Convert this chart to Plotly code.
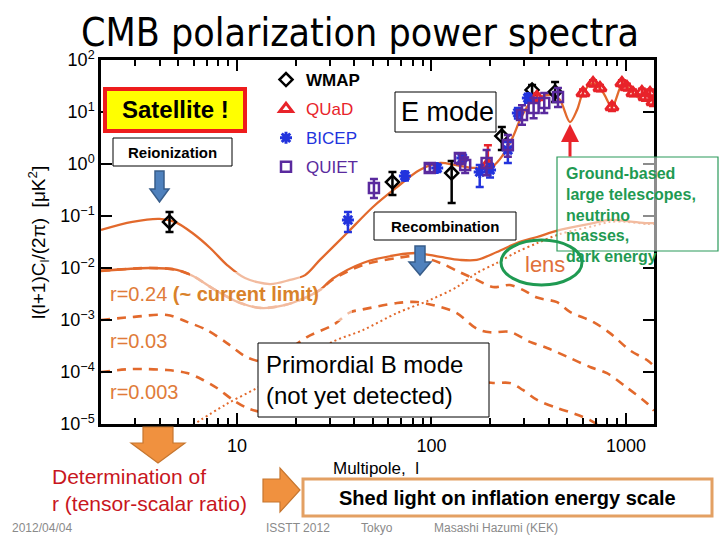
import math
import plotly.graph_objects as go

# ---------------- data ----------------
# E-mode theory curve
ee_l = [2.0, 2.9, 4.0, 4.8, 5.9, 7.3, 8.9, 11.0, 14.8, 18.7, 22.4, 26.7, 36.8, 50, 66.5, 87, 111, 132,
        167, 207, 233, 262, 285, 321, 361, 421, 458, 515, 560, 601, 677, 761, 847, 965, 1086, 1223, 1393]
ee_v = [0.054, 0.077, 0.088, 0.077, 0.047, 0.024, 0.0114, 0.0064, 0.0049, 0.0059, 0.0073, 0.0143, 0.047,
        0.149, 0.36, 0.77, 1.05, 0.96, 0.84, 0.92, 1.49, 3.3, 7.0, 14.9, 19.4, 21.2, 17.0, 6.4, 10.9, 23.2,
        36.0, 24.0, 12.5, 36.0, 23.0, 17.0, 17.0]

# total B-mode (r=0.24 + lensing), solid
bb_l = [2.0, 3.57, 4.91, 5.94, 7.71, 10.4, 13.4, 17.6, 21.1, 26.7, 31, 44.4, 66.5, 84, 111, 140, 171,
        217, 275, 349, 458, 677, 827, 1012, 1282, 1393]
bb_v = [0.0088, 0.0100, 0.0092, 0.0070, 0.0038, 0.00212, 0.00170, 0.00194, 0.00243, 0.00378, 0.0062,
        0.0125, 0.0178, 0.0194, 0.0163, 0.0143, 0.0143, 0.0203, 0.0303, 0.0395, 0.054, 0.073, 0.084,
        0.080, 0.073, 0.073]

# primordial B-mode, r=0.24 (dashed)
r24_l = [2.0, 3.57, 4.91, 5.94, 7.71, 10.4, 13.4, 17.6, 21.1, 26.7, 31, 44.4, 66.5, 84, 111, 140, 171,
         207, 253, 295, 349, 442, 515, 677, 827, 1049, 1282, 1393]
r24_v = [0.0088, 0.0100, 0.0092, 0.0070, 0.0038, 0.00212, 0.00170, 0.00194, 0.00243, 0.00378, 0.0060,
         0.0114, 0.0156, 0.0170, 0.0125, 0.0083, 0.0059, 0.0043, 0.0047, 0.0038, 0.0027, 0.0022,
         0.00143, 0.00092, 0.00056, 0.00026, 0.00017, 0.00013]

# primordial B-mode, r=0.03 (dashed)
r03_l = [2.0, 2.9, 4.37, 5.53, 7.01, 8.88, 11.3, 13.9, 17.6, 22.9, 31.2, 38.1, 44.4, 66.5, 84, 111, 135,
         171, 200, 253, 321, 393, 515, 653, 798, 1012, 1282, 1393]
r03_v = [0.00100, 0.00114, 0.00125, 0.00092, 0.00064, 0.00036, 0.00019, 0.00016, 0.00024, 0.00047,
         0.00080, 0.0014, 0.0016, 0.00212, 0.00222, 0.00178, 0.00136, 0.00068, 0.00058, 0.00059,
         0.00038, 0.00029, 0.000186, 0.000125, 0.000095, 0.000050, 0.000025, 0.000018]

# primordial B-mode, r=0.003 (dashed)
r003_l = [2.0, 2.9, 4.37, 5.53, 6.69, 7.89, 9.54, 11.3, 13.9, 17.6, 22.9, 31, 44, 66.5, 84, 111, 140,
          171, 207, 253, 295, 349, 442, 547, 653, 735, 931, 1393]
r003_v = [0.000100, 0.000114, 0.000109, 0.0000957, 0.0000702, 0.0000492, 0.000029, 0.0000203,
          0.000017, 0.000024, 0.000047, 0.00008, 0.00015, 0.00021, 0.00022, 0.00018, 0.00013, 0.00007,
          0.0000615, 0.0000614, 0.0000451, 0.000029, 0.0000203, 0.0000156, 0.0000119, 0.0000091,
          0.000005, 0.0000025]

# lensing B-mode (dotted)
lens_l = [5.94, 8.67, 12.7, 21.1, 30.1, 44.4, 66.5, 98.2, 135, 171, 217, 275, 349, 458, 677, 827, 1012,
          1282, 1393]
lens_v = [0.0000096, 0.0000232, 0.0000492, 0.000135, 0.00036, 0.00064, 0.00136, 0.00243, 0.0043,
          0.0080, 0.0125, 0.0203, 0.030, 0.045, 0.064, 0.077, 0.077, 0.0702, 0.0702]

# experiments
wmap_l = [4.5, 63, 127, 230, 329, 432]
wmap_v = [0.077, 0.45, 0.67, 3.45, 26.5, 24.3]
wmap_lo = [0.049, 0.254, 0.178, 1.86, 21.2, 15.6]
wmap_hi = [0.119, 0.70, 1.14, 5.15, 33.1, 37.8]

quad_l = [195, 348, 601, 677, 735, 847, 953, 1011, 1086, 1207, 1253, 1329, 1377]
quad_v = [1.0, 19.4, 23.2, 36.1, 28.9, 12.5, 36.1, 30.3, 23.2, 24.3, 19.4, 23.2, 15.6]
quad_lo = [0.7, 16.5, 20.0, 31.0, 25.0, 10.5, 31.0, 26.0, 20.0, 21.0, 16.5, 20.0, 13.0]
quad_hi = [2.3, 22.5, 27.0, 41.0, 33.0, 14.5, 41.0, 35.0, 27.0, 28.0, 22.5, 27.0, 18.5]

bicep_l = [37.2, 73, 107, 144, 177, 200, 247, 278, 313]
bicep_v = [0.084, 0.59, 0.84, 1.30, 0.70, 0.77, 1.86, 9.6, 18.6]
bicep_lo = [0.049, 0.48, 0.70, 1.05, 0.36, 0.55, 1.05, 7.5, 15.0]
bicep_hi = [0.119, 0.72, 1.0, 1.6, 0.96, 1.0, 2.65, 12.0, 22.5]

quiet_l = [50.6, 98, 140, 149, 192, 247, 292, 335, 380, 447]
quiet_v = [0.345, 0.84, 1.30, 0.96, 1.05, 2.32, 8.75, 11.9, 14.9, 19.4]
quiet_lo = [0.222, 0.70, 1.0, 0.67, 0.61, 1.38, 5.7, 7.6, 9.6, 12.5]
quiet_hi = [0.515, 1.0, 1.6, 1.33, 1.86, 3.6, 13.5, 18.6, 23.2, 28.9]

y_ticks = [1e-5, 1e-4, 1e-3, 1e-2, 1e-1, 1e0, 1e1, 1e2]
y_ticktext = ["10<sup>\u22125</sup>", "10<sup>\u22124</sup>", "10<sup>\u22123</sup>", "10<sup>\u22122</sup>",
              "10<sup>\u22121</sup>", "10<sup>0</sup>", "10<sup>1</sup>", "10<sup>2</sup>"]
x_ticks = [10, 100, 1000]
x_ticktext = ["10", "100", "1000"]
x_minor = [3, 4, 5, 6, 7, 8, 9, 20, 30, 40, 50, 60, 70, 80, 90, 200, 300, 400, 500, 600, 700, 800, 900]

# ---------------- styling helpers ----------------
W, H = 720, 540
L, R, T, B = 101, 654, 60, 424


def px(x):
    return (x - L) / (R - L)


def py(y):
    return (B - y) / (B - T)


def path(points):
    s = "M " + " L ".join(f"{px(a):.5f},{py(b):.5f}" for a, b in points) + " Z"
    return s


ORANGE = "#e2692c"
FONT = "Liberation Sans, Arial, sans-serif"

fig = go.Figure()


def curve(xs, ys, dash="solid", width=2.3):
    fig.add_trace(go.Scatter(x=xs, y=ys, mode="lines", showlegend=False, hoverinfo="skip",
                             line=dict(color=ORANGE, width=width, dash=dash, shape="spline", smoothing=0.9)))


curve(lens_l, lens_v, dash="2px,3px", width=2)
curve(r003_l, r003_v, dash="9px,7px", width=2.6)
curve(r03_l, r03_v, dash="9px,7px", width=2.6)
curve(r24_l, r24_v, dash="9px,7px", width=2.6)
curve(bb_l, bb_v)
curve(ee_l, ee_v)


def points(xs, ys, lo, hi, name, color, symbol, size, lw):
    fig.add_trace(go.Scatter(
        x=xs, y=ys, mode="markers", name=name,
        marker=dict(symbol=symbol, size=size, color=color, line=dict(color=color, width=lw)),
        error_y=dict(type="data", symmetric=False,
                     array=[h - v for h, v in zip(hi, ys)],
                     arrayminus=[v - l for l, v in zip(lo, ys)],
                     color=color, thickness=2.5, width=4),
        legendgroup=name))


points(wmap_l, wmap_v, wmap_lo, wmap_hi, "<b>WMAP</b>", "black", "diamond-open", 10, 2.5)
points(quad_l, quad_v, quad_lo, quad_hi, "<span style='color:#e8232a'>QUaD</span>", "#e8232a",
       "triangle-up-open", 11, 3)
points(bicep_l, bicep_v, bicep_lo, bicep_hi, "<span style='color:#2233dd'>BICEP</span>", "#2233dd",
       "asterisk-open", 10, 3)
points(quiet_l, quiet_v, quiet_lo, quiet_hi, "<span style='color:#5a2a9e'>QUIET</span>", "#5a2a9e",
       "square-open", 10, 2.5)

shapes = []
annots = []

# faded regions (semi-transparent text box backgrounds)
shapes.append(dict(type="rect", xref="paper", yref="paper", x0=px(190), x1=px(300), y0=py(321), y1=py(272),
                   fillcolor="rgba(255,255,255,0.55)", line=dict(width=0), layer="above"))
shapes.append(dict(type="rect", xref="paper", yref="paper", x0=px(300), x1=px(352), y0=py(321), y1=py(288),
                   fillcolor="rgba(255,255,255,0.55)", line=dict(width=0), layer="above"))


def box(x0, y0, x1, y1, fill, line_color, lw):
    shapes.append(dict(type="rect", xref="paper", yref="paper", x0=px(x0), x1=px(x1), y0=py(y1), y1=py(y0),
                       fillcolor=fill, line=dict(color=line_color, width=lw), layer="above"))


def text(x, y, s, size, color="black", bold=False, xanchor="center", family=FONT, align="center", yanchor="middle"):
    if bold:
        s = "<b>" + s + "</b>"
    annots.append(dict(xref="paper", yref="paper", x=px(x), y=py(y), text=s, showarrow=False,
                       xanchor=xanchor, yanchor=yanchor, align=align,
                       font=dict(size=size, color=color, family=family)))


# Satellite !
box(105, 89, 245, 131, "#ffff00", "#ee1c1c", 4)
text(175, 110, "Satellite !", 24, bold=True)
# Reionization
box(113, 138, 232, 166, "white", "black", 1)
text(172, 152, "Reionization", 15, bold=True)
# E mode
box(395, 92, 496, 132, "white", "black", 1)
text(447, 112, "E mode", 27)
# Recombination
box(374, 212, 516, 240, "white", "black", 1)
text(445, 226, "Recombination", 15, bold=True)
# Primordial B mode
box(258, 343, 489, 417, "white", "black", 1)
text(264, 380, "Primordial B mode<br>(not yet detected)", 24, xanchor="left", align="left")
# Ground-based box
box(557, 157, 718, 251, "rgba(255,255,255,0.55)", "#2a9a5a", 1.2)
text(564, 215, "Ground-based<br>large telescopes,<br>neutrino<br>masses,<br>dark energy", 16,
     color="#1f9a52", bold=True, xanchor="left", align="left")
# lens ellipse
shapes.append(dict(type="circle", xref="paper", yref="paper", x0=px(501), x1=px(582), y0=py(285), y1=py(240),
                   line=dict(color="#1f9a52", width=3), layer="above"))
text(545, 264, "lens", 22, color="#e0703a")

# r labels
text(108, 294, "r=0.24 <b><span style='color:#d9822b'>(~ current limit)</span></b>", 20, color="#e07b39",
     xanchor="left")
text(108, 341, "r=0.03", 20, color="#e07b39", xanchor="left")
text(108, 392, "r=0.003", 20, color="#e07b39", xanchor="left")

# blue block arrows
BLUE_F, BLUE_L = "#4f81bd", "#385d8a"
shapes.append(dict(type="path", xref="paper", yref="paper", layer="above",
                   path=path([(155, 171), (164, 171), (164, 189), (169, 189), (159.5, 202), (150, 189), (155, 189)]),
                   fillcolor=BLUE_F, line=dict(color=BLUE_L, width=1.5)))
shapes.append(dict(type="path", xref="paper", yref="paper", layer="above",
                   path=path([(415, 246), (425, 246), (425, 262), (431, 262), (420, 275), (409, 262), (415, 262)]),
                   fillcolor=BLUE_F, line=dict(color=BLUE_L, width=1.5)))

# orange block arrows
OR_F, OR_L = "#f0913f", "#c6762f"
shapes.append(dict(type="path", xref="paper", yref="paper", layer="above",
                   path=path([(143, 427), (173, 427), (173, 443), (185, 443), (158, 463), (131, 443), (143, 443)]),
                   fillcolor=OR_F, line=dict(color=OR_L, width=1.2)))
shapes.append(dict(type="path", xref="paper", yref="paper", layer="above",
                   path=path([(263, 479), (280, 479), (280, 468), (300, 490), (280, 512), (280, 502), (263, 502)]),
                   fillcolor=OR_F, line=dict(color=OR_L, width=1.2)))

# Shed light box
box(303, 479, 712, 516, "white", "#e3a063", 3)
text(507, 498, "Shed light on inflation energy scale", 20, bold=True)

# Determination text
text(50, 490, "Determination of<br>r (tensor-scalar ratio)", 21, color="#c8161d", xanchor="left", align="left")

# red arrow to the trough
annots.append(dict(xref="paper", yref="paper", x=px(570), y=py(124), ax=0, ay=34,
                   axref="pixel", ayref="pixel", showarrow=True, arrowhead=2, arrowsize=1.2,
                   arrowwidth=3, arrowcolor="#e8232a", text=""))

# title and axis labels
text(360, 32, "CMB polarization power spectra", 39,
     family="Liberation Sans Narrow, DejaVu Sans Condensed, Arial Narrow, sans-serif")
annots.append(dict(xref="paper", yref="paper", x=px(38), y=py(243),
                   text="l(l+1)C<sub>l</sub>/(2\u03c0)  [\u03bcK<sup>2</sup>]",
                   showarrow=False, textangle=-90, font=dict(size=19, color="black", family=FONT),
                   xanchor="center", yanchor="middle"))
text(376, 468, "Multipole,  l", 17)

# footer
GREY = "#8a8a8a"
text(10, 528, "2012/04/04", 12, color=GREY, xanchor="left")
text(264, 528, "ISSTT 2012", 12, color=GREY, xanchor="left")
text(359, 528, "Tokyo", 12, color=GREY, xanchor="left")
text(432, 528, "Masashi Hazumi (KEK)", 12, color=GREY, xanchor="left")

fig.update_layout(
    width=W, height=H,
    margin=dict(l=L, r=W - R, t=T, b=H - B, pad=0),
    plot_bgcolor="white", paper_bgcolor="white",
    font=dict(family=FONT, color="black"),
    shapes=shapes, annotations=annots,
    showlegend=True,
    legend=dict(x=px(266), y=py(62), xanchor="left", yanchor="top", bgcolor="rgba(0,0,0,0)",
                font=dict(size=17, family=FONT, color="black"), traceorder="grouped",
                tracegroupgap=4, itemwidth=30),
    xaxis=dict(type="log", range=[math.log10(2), math.log10(1393)], tickvals=x_ticks, ticktext=x_ticktext,
               ticks="inside", ticklen=11, tickwidth=2, tickcolor="black", showline=True, linewidth=2.5,
               linecolor="black", mirror="allticks", showgrid=False, zeroline=False, ticklabelstandoff=4,
               tickfont=dict(size=18, color="black", family=FONT),
               minor=dict(tickvals=x_minor, ticks="inside", ticklen=6, tickwidth=1.5, tickcolor="black",
                          showgrid=False)),
    yaxis=dict(type="log", range=[-5, 2], tickvals=y_ticks, ticktext=y_ticktext,
               ticks="inside", ticklen=11, tickwidth=2, tickcolor="black", showline=True, linewidth=2.5,
               linecolor="black", mirror="allticks", showgrid=False, zeroline=False,
               tickfont=dict(size=18, color="black", family=FONT)),
)

fig.write_html("out.html", config={"displayModeBar": False},
               post_script="document.body.style.margin='0';document.body.style.padding='0';")
